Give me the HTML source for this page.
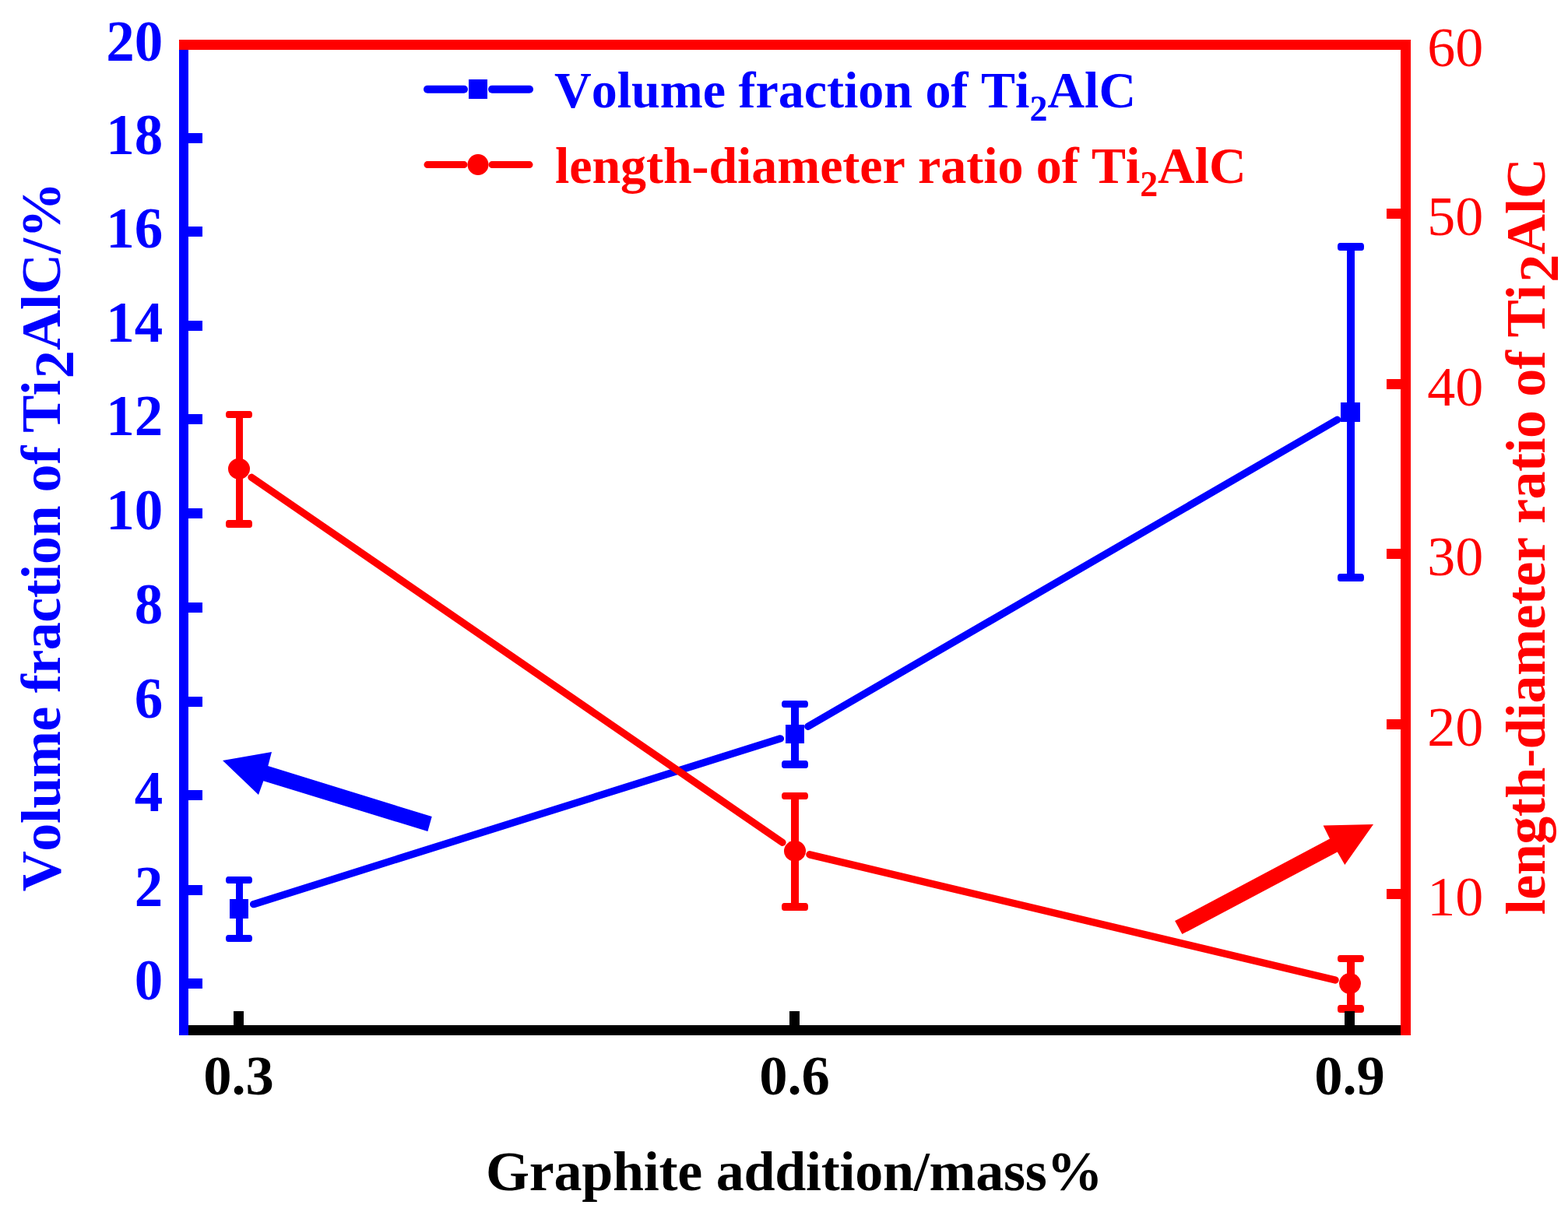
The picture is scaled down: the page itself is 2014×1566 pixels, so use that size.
<!DOCTYPE html>
<html lang="en"><head><meta charset="utf-8"><title>Volume fraction and length-diameter ratio of Ti2AlC</title>
<style>html,body{margin:0;padding:0;background:#fff;}body{width:2014px;height:1566px;}svg{display:block;}</style>
</head><body>
<svg width="2014" height="1566" viewBox="0 0 2014 1566" font-family="'Liberation Serif', serif" style="font-kerning:none">
<rect width="2014" height="1566" fill="#fff"/>
<g id="series-lines">
<line x1="325.60" y1="1161.65" x2="1002.40" y2="948.85" stroke="#0000ff" stroke-width="9.4" stroke-linecap="round"/>
<line x1="1037.87" y1="933.22" x2="1717.63" y2="539.28" stroke="#0000ff" stroke-width="9.4" stroke-linecap="round"/>
<line x1="323.07" y1="613.25" x2="1004.93" y2="1082.25" stroke="#ff0000" stroke-width="9.4" stroke-linecap="round"/>
<line x1="1039.97" y1="1097.83" x2="1715.03" y2="1258.97" stroke="#ff0000" stroke-width="9.4" stroke-linecap="round"/>
</g>
<g id="series-blue">
<rect x="303" y="1128" width="9" height="80" fill="#0000ff"/>
<rect x="290" y="1126" width="34" height="9" rx="3.2" ry="4.6" fill="#0000ff"/>
<rect x="290" y="1201" width="34" height="9" rx="3.2" ry="4.6" fill="#0000ff"/>
<rect x="295" y="1155" width="24" height="25" fill="#0000ff"/>
<rect x="1016" y="902" width="10" height="83" fill="#0000ff"/>
<rect x="1004" y="900" width="34" height="9" rx="3.2" ry="4.6" fill="#0000ff"/>
<rect x="1004" y="977" width="34" height="10" rx="3.2" ry="4.6" fill="#0000ff"/>
<rect x="1009" y="931" width="24" height="24" fill="#0000ff"/>
<rect x="1730" y="314" width="10" height="431" fill="#0000ff"/>
<rect x="1718" y="312" width="34" height="10" rx="3.2" ry="4.6" fill="#0000ff"/>
<rect x="1718" y="737" width="34" height="10" rx="3.2" ry="4.6" fill="#0000ff"/>
<rect x="1722" y="517" width="25" height="25" fill="#0000ff"/>
</g>
<g id="series-red">
<rect x="303" y="530" width="9" height="146" fill="#ff0000"/>
<rect x="290" y="528" width="34" height="9" rx="3.2" ry="4.6" fill="#ff0000"/>
<rect x="290" y="668" width="34" height="10" rx="3.2" ry="4.6" fill="#ff0000"/>
<ellipse cx="307" cy="602.2" rx="14" ry="13.5" fill="#ff0000"/>
<rect x="1016" y="1020" width="10" height="148" fill="#ff0000"/>
<rect x="1004" y="1018" width="34" height="9" rx="3.2" ry="4.6" fill="#ff0000"/>
<rect x="1004" y="1160" width="34" height="10" rx="3.2" ry="4.6" fill="#ff0000"/>
<ellipse cx="1021" cy="1093.3" rx="14" ry="13.5" fill="#ff0000"/>
<rect x="1730" y="1229" width="10" height="70" fill="#ff0000"/>
<rect x="1718" y="1227" width="34" height="9" rx="3.2" ry="4.6" fill="#ff0000"/>
<rect x="1718" y="1291" width="34" height="10" rx="3.2" ry="4.6" fill="#ff0000"/>
<ellipse cx="1734" cy="1263.5" rx="14" ry="13.5" fill="#ff0000"/>
</g>
<polygon points="286,977 349,966 344.3,984 554.7,1049.1 549.4,1068.1 338.4,1003.2 332,1021" fill="#0000ff"/>
<polygon points="1764,1059 1699.6,1060.6 1708,1077.6 1509.1,1183.1 1518.4,1200.1 1717.8,1094.5 1727.3,1111" fill="#ff0000"/>
<g id="axes" shape-rendering="crispEdges">
<rect x="230" y="51" width="12" height="1279" fill="#0000ff"/>
<rect x="242" y="1317" width="1570" height="13" fill="#000000"/>
<rect x="1799" y="51" width="13" height="1279" fill="#ff0000"/>
<rect x="230" y="51" width="1582" height="13" fill="#ff0000"/>
<rect x="242" y="1257" width="18" height="13" fill="#0000ff"/>
<rect x="242" y="1137" width="18" height="13" fill="#0000ff"/>
<rect x="242" y="1015" width="18" height="13" fill="#0000ff"/>
<rect x="242" y="895" width="18" height="13" fill="#0000ff"/>
<rect x="242" y="774" width="18" height="13" fill="#0000ff"/>
<rect x="242" y="653" width="18" height="13" fill="#0000ff"/>
<rect x="242" y="532" width="18" height="13" fill="#0000ff"/>
<rect x="242" y="412" width="18" height="13" fill="#0000ff"/>
<rect x="242" y="291" width="18" height="13" fill="#0000ff"/>
<rect x="242" y="171" width="18" height="13" fill="#0000ff"/>
<rect x="1781" y="1142" width="18" height="13" fill="#ff0000"/>
<rect x="1781" y="924" width="18" height="13" fill="#ff0000"/>
<rect x="1781" y="705" width="18" height="13" fill="#ff0000"/>
<rect x="1781" y="487" width="18" height="13" fill="#ff0000"/>
<rect x="1781" y="268" width="18" height="13" fill="#ff0000"/>
<rect x="300" y="1299" width="13" height="18" fill="#000000"/>
<rect x="1014" y="1299" width="13" height="18" fill="#000000"/>
<rect x="1727" y="1299" width="13" height="18" fill="#000000"/>
</g>
<g id="left-tick-labels" font-size="73" font-weight="bold" fill="#0000ff" text-anchor="end">
<text x="209.2" y="1284.30">0</text>
<text x="209.2" y="1164.30">2</text>
<text x="209.2" y="1042.30">4</text>
<text x="209.2" y="922.30">6</text>
<text x="209.2" y="801.30">8</text>
<text x="209.2" y="680.30">10</text>
<text x="209.2" y="559.30">12</text>
<text x="209.2" y="439.30">14</text>
<text x="209.2" y="318.30">16</text>
<text x="209.2" y="198.30">18</text>
<text x="209.2" y="78.30">20</text>
</g>
<g id="right-tick-labels" font-size="72" fill="#ff0000">
<text x="1833.2" y="1175.90">10</text>
<text x="1833.2" y="957.90">20</text>
<text x="1833.2" y="738.90">30</text>
<text x="1833.2" y="520.90">40</text>
<text x="1833.2" y="301.90">50</text>
<text x="1833.2" y="84.90">60</text>
</g>
<g id="x-tick-labels" font-size="72.6" font-weight="bold" fill="#000000" text-anchor="middle">
<text x="306.5" y="1406.3">0.3</text>
<text x="1020.5" y="1406.3">0.6</text>
<text x="1733.5" y="1406.3">0.9</text>
</g>
<text x="1020.2" y="1529.3" font-size="72" letter-spacing="-0.25" font-weight="bold" fill="#000000" text-anchor="middle">Graphite addition/mass%</text>
<text transform="translate(76.8,0) rotate(-90)" font-size="72" font-weight="bold" fill="#0000ff"><tspan x="-1145.2" y="0" letter-spacing="-0.445">Volume fraction of Ti</tspan><tspan x="-486.3" y="16.8">2</tspan><tspan x="-450" y="0" letter-spacing="0">AlC/%</tspan></text>
<text transform="translate(1983.8,0) rotate(-90)" font-size="72" font-weight="bold" fill="#ff0000"><tspan x="-1175.3" y="0" letter-spacing="-0.47">length-diameter ratio of Ti</tspan><tspan x="-362.65" y="16.8">2</tspan><tspan x="-326.9" y="0" letter-spacing="0">AlC</tspan></text>
<g id="legend">
<line x1="549" y1="114.8" x2="596" y2="114.8" stroke="#0000ff" stroke-width="10" stroke-linecap="round"/>
<line x1="632" y1="114.8" x2="680" y2="114.8" stroke="#0000ff" stroke-width="10" stroke-linecap="round"/>
<rect x="602" y="102" width="24" height="25" fill="#0000ff"/>
<line x1="549" y1="211.6" x2="596" y2="211.6" stroke="#ff0000" stroke-width="9" stroke-linecap="round"/>
<line x1="632" y1="211.6" x2="680" y2="211.6" stroke="#ff0000" stroke-width="9" stroke-linecap="round"/>
<circle cx="614" cy="211.5" r="13.5" fill="#ff0000"/>
<text x="712" y="138.2" font-size="66" letter-spacing="0" font-weight="bold" fill="#0000ff">Volume fraction of Ti<tspan font-size="46" dy="17.2">2</tspan><tspan dy="-17.2">AlC</tspan></text>
<text x="713" y="234.8" font-size="66" letter-spacing="-0.08" font-weight="bold" fill="#ff0000">length-diameter ratio of Ti<tspan font-size="46" dy="17.2">2</tspan><tspan dy="-17.2">AlC</tspan></text>
</g>
</svg>
</body></html>
